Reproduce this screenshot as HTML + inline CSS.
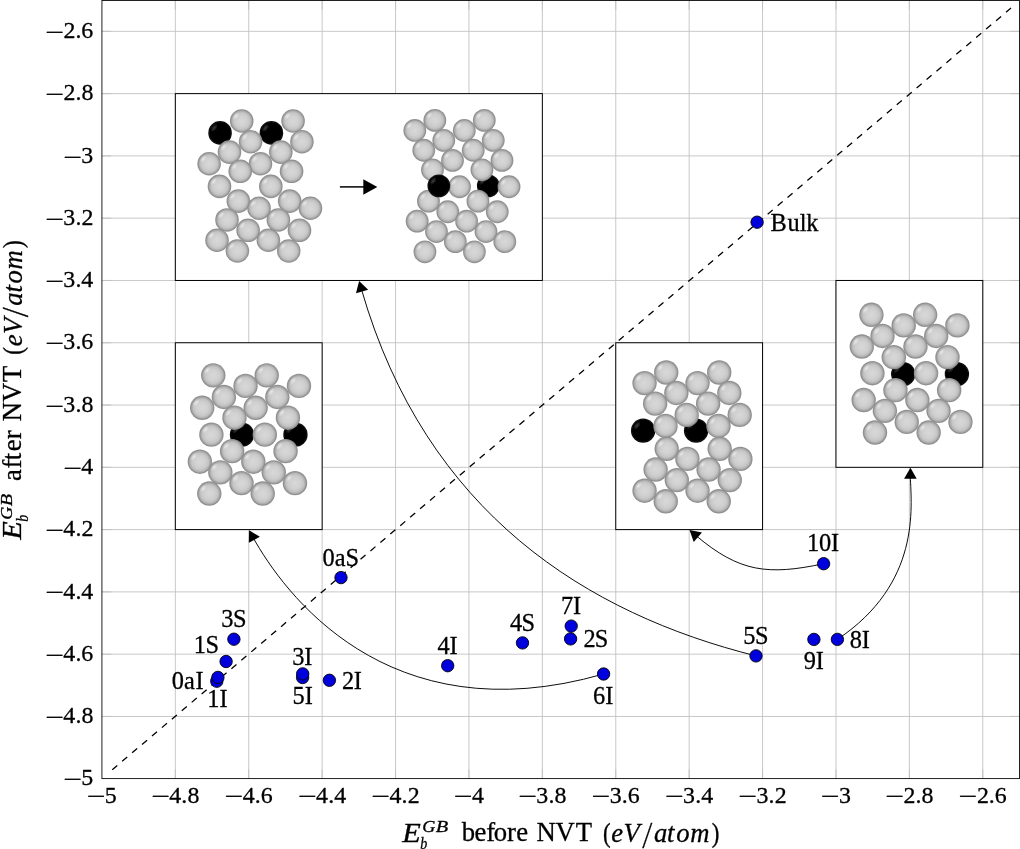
<!DOCTYPE html>
<html><head><meta charset="utf-8"><style>html,body{margin:0;padding:0;background:#fff;overflow:hidden;}svg{display:block;}text{fill:#000;stroke:#000;stroke-width:0.3px;stroke-linejoin:round;}</style></head>
<body>
<svg width="1020" height="849" viewBox="0 0 1020 849">
<defs>
<radialGradient id="gs" cx="50%" cy="50%" r="50%"><stop offset="0" stop-color="#d8d8d8"/><stop offset="0.45" stop-color="#d0d0d0"/><stop offset="0.7" stop-color="#c4c4c4"/><stop offset="0.84" stop-color="#acacac"/><stop offset="0.93" stop-color="#929292"/><stop offset="1" stop-color="#8e8e8e"/></radialGradient>
<filter id="bl" x="-5%" y="-5%" width="110%" height="110%"><feGaussianBlur stdDeviation="0.35"/></filter>
<radialGradient id="hw" cx="50%" cy="50%" r="50%"><stop offset="0" stop-color="#fff" stop-opacity="0.6"/><stop offset="1" stop-color="#fff" stop-opacity="0"/></radialGradient>
<radialGradient id="gb" cx="50%" cy="50%" r="50%"><stop offset="0" stop-color="#000"/><stop offset="0.85" stop-color="#030303"/><stop offset="1" stop-color="#141414"/></radialGradient>
<radialGradient id="hb" cx="50%" cy="50%" r="50%"><stop offset="0" stop-color="#5a5a5a" stop-opacity="0.7"/><stop offset="1" stop-color="#666" stop-opacity="0"/></radialGradient>
<g id="sw"><circle r="1" fill="url(#gs)"/><ellipse cx="-0.5" cy="-0.42" rx="0.4" ry="0.22" transform="rotate(-50 -0.5 -0.42)" fill="url(#hw)"/></g>
<g id="sb"><circle r="1" fill="url(#gb)"/><ellipse cx="-0.5" cy="-0.42" rx="0.4" ry="0.22" transform="rotate(-50 -0.5 -0.42)" fill="url(#hb)"/></g>
</defs>
<rect width="1020" height="849" fill="#fff"/>
<path d="M175.33 0.45V778.60M248.74 0.45V778.60M322.14 0.45V778.60M395.55 0.45V778.60M468.95 0.45V778.60M542.35 0.45V778.60M615.76 0.45V778.60M689.16 0.45V778.60M762.57 0.45V778.60M835.97 0.45V778.60M909.37 0.45V778.60M982.78 0.45V778.60M101.93 716.46H1019.55M101.93 654.17H1019.55M101.93 591.89H1019.55M101.93 529.60H1019.55M101.93 467.32H1019.55M101.93 405.04H1019.55M101.93 342.75H1019.55M101.93 280.47H1019.55M101.93 218.18H1019.55M101.93 155.90H1019.55M101.93 93.62H1019.55M101.93 31.33H1019.55" stroke="#bfbfbf" stroke-width="0.87" fill="none"/>
<path d="M175.33 778.60v-9.3M175.33 0.45v9.3M101.93 716.46h9.3M1019.55 716.46h-9.3M248.74 778.60v-9.3M248.74 0.45v9.3M101.93 654.17h9.3M1019.55 654.17h-9.3M322.14 778.60v-9.3M322.14 0.45v9.3M101.93 591.89h9.3M1019.55 591.89h-9.3M395.55 778.60v-9.3M395.55 0.45v9.3M101.93 529.60h9.3M1019.55 529.60h-9.3M468.95 778.60v-9.3M468.95 0.45v9.3M101.93 467.32h9.3M1019.55 467.32h-9.3M542.35 778.60v-9.3M542.35 0.45v9.3M101.93 405.04h9.3M1019.55 405.04h-9.3M615.76 778.60v-9.3M615.76 0.45v9.3M101.93 342.75h9.3M1019.55 342.75h-9.3M689.16 778.60v-9.3M689.16 0.45v9.3M101.93 280.47h9.3M1019.55 280.47h-9.3M762.57 778.60v-9.3M762.57 0.45v9.3M101.93 218.18h9.3M1019.55 218.18h-9.3M835.97 778.60v-9.3M835.97 0.45v9.3M101.93 155.90h9.3M1019.55 155.90h-9.3M909.37 778.60v-9.3M909.37 0.45v9.3M101.93 93.62h9.3M1019.55 93.62h-9.3M982.78 778.60v-9.3M982.78 0.45v9.3M101.93 31.33h9.3M1019.55 31.33h-9.3" stroke="#bfbfbf" stroke-width="0.87" fill="none"/>
<path d="M112.25 769.70L1011.70 7.45" stroke="#000" stroke-width="1.3" stroke-dasharray="6.6 6.417" fill="none"/>
<rect x="175.33" y="93.62" width="367.02" height="186.85" fill="#fff" stroke="#000" stroke-width="1.0"/>
<g filter="url(#bl)">
<use href="#sb" transform="translate(220.06 132.88) scale(11.80)"/>
<use href="#sb" transform="translate(271.40 132.88) scale(11.80)"/>
<use href="#sw" transform="translate(241.72 121.01) scale(11.80)"/>
<use href="#sw" transform="translate(293.07 121.01) scale(11.80)"/>
<use href="#sw" transform="translate(250.58 141.74) scale(11.80)"/>
<use href="#sw" transform="translate(301.92 141.74) scale(11.80)"/>
<use href="#sw" transform="translate(229.48 152.10) scale(11.80)"/>
<use href="#sw" transform="translate(280.82 152.10) scale(11.80)"/>
<use href="#sw" transform="translate(209.13 163.78) scale(11.80)"/>
<use href="#sw" transform="translate(260.47 163.78) scale(11.80)"/>
<use href="#sw" transform="translate(240.22 171.32) scale(11.80)"/>
<use href="#sw" transform="translate(291.56 171.32) scale(11.80)"/>
<use href="#sw" transform="translate(219.49 186.39) scale(11.80)"/>
<use href="#sw" transform="translate(270.83 186.39) scale(11.80)"/>
<use href="#sw" transform="translate(238.33 201.09) scale(11.80)"/>
<use href="#sw" transform="translate(289.67 201.09) scale(11.80)"/>
<use href="#sw" transform="translate(259.06 208.25) scale(11.80)"/>
<use href="#sw" transform="translate(310.40 208.25) scale(11.80)"/>
<use href="#sw" transform="translate(227.03 219.93) scale(11.80)"/>
<use href="#sw" transform="translate(278.37 219.93) scale(11.80)"/>
<use href="#sw" transform="translate(248.13 230.29) scale(11.80)"/>
<use href="#sw" transform="translate(299.47 230.29) scale(11.80)"/>
<use href="#sw" transform="translate(217.04 240.28) scale(11.80)"/>
<use href="#sw" transform="translate(268.38 240.28) scale(11.80)"/>
<use href="#sw" transform="translate(237.39 251.01) scale(11.80)"/>
<use href="#sw" transform="translate(288.73 251.01) scale(11.80)"/>
</g>
<path d="M339.9 186.9H366" stroke="#000" stroke-width="1.5" fill="none"/>
<path d="M377.3 187L363.3 179.2L363.3 194.8Z" fill="#000"/>
<g filter="url(#bl)">
<use href="#sb" transform="translate(488.30 185.82) scale(11.40)"/>
<use href="#sw" transform="translate(434.83 120.34) scale(11.40)"/>
<use href="#sw" transform="translate(484.30 120.34) scale(11.40)"/>
<use href="#sw" transform="translate(414.81 130.47) scale(11.40)"/>
<use href="#sw" transform="translate(464.28 130.47) scale(11.40)"/>
<use href="#sw" transform="translate(443.78 140.36) scale(11.40)"/>
<use href="#sw" transform="translate(493.25 140.36) scale(11.40)"/>
<use href="#sw" transform="translate(423.76 150.25) scale(11.40)"/>
<use href="#sw" transform="translate(473.23 150.25) scale(11.40)"/>
<use href="#sw" transform="translate(452.50 160.38) scale(11.40)"/>
<use href="#sw" transform="translate(501.97 160.38) scale(11.40)"/>
<use href="#sw" transform="translate(432.47 169.81) scale(11.40)"/>
<use href="#sw" transform="translate(481.94 169.81) scale(11.40)"/>
<use href="#sw" transform="translate(459.56 186.77) scale(11.40)"/>
<use href="#sw" transform="translate(509.03 186.77) scale(11.40)"/>
<use href="#sw" transform="translate(428.47 201.14) scale(11.40)"/>
<use href="#sw" transform="translate(477.94 201.14) scale(11.40)"/>
<use href="#sw" transform="translate(447.79 211.74) scale(11.40)"/>
<use href="#sw" transform="translate(497.26 211.74) scale(11.40)"/>
<use href="#sw" transform="translate(417.16 221.16) scale(11.40)"/>
<use href="#sw" transform="translate(466.63 221.16) scale(11.40)"/>
<use href="#sw" transform="translate(436.48 231.53) scale(11.40)"/>
<use href="#sw" transform="translate(485.95 231.53) scale(11.40)"/>
<use href="#sw" transform="translate(455.32 241.65) scale(11.40)"/>
<use href="#sw" transform="translate(504.79 241.65) scale(11.40)"/>
<use href="#sw" transform="translate(424.94 251.78) scale(11.40)"/>
<use href="#sw" transform="translate(474.41 251.78) scale(11.40)"/>
<use href="#sb" transform="translate(438.83 185.82) scale(11.40)"/>
</g>
<rect x="175.33" y="342.75" width="146.81" height="186.85" fill="#fff" stroke="#000" stroke-width="1.0"/>
<g filter="url(#bl)">
<use href="#sb" transform="translate(242.00 434.66) scale(12.20)"/>
<use href="#sb" transform="translate(295.45 434.66) scale(12.20)"/>
<use href="#sw" transform="translate(213.27 375.33) scale(12.20)"/>
<use href="#sw" transform="translate(266.72 375.33) scale(12.20)"/>
<use href="#sw" transform="translate(245.53 385.92) scale(12.20)"/>
<use href="#sw" transform="translate(298.98 385.92) scale(12.20)"/>
<use href="#sw" transform="translate(223.87 396.99) scale(12.20)"/>
<use href="#sw" transform="translate(277.31 396.99) scale(12.20)"/>
<use href="#sw" transform="translate(202.20 407.82) scale(12.20)"/>
<use href="#sw" transform="translate(255.65 407.82) scale(12.20)"/>
<use href="#sw" transform="translate(234.46 417.71) scale(12.20)"/>
<use href="#sw" transform="translate(287.91 417.71) scale(12.20)"/>
<use href="#sw" transform="translate(211.39 434.66) scale(12.20)"/>
<use href="#sw" transform="translate(264.84 434.66) scale(12.20)"/>
<use href="#sw" transform="translate(232.11 451.15) scale(12.20)"/>
<use href="#sw" transform="translate(285.56 451.15) scale(12.20)"/>
<use href="#sw" transform="translate(199.85 461.74) scale(12.20)"/>
<use href="#sw" transform="translate(253.30 461.74) scale(12.20)"/>
<use href="#sw" transform="translate(220.33 472.34) scale(12.20)"/>
<use href="#sw" transform="translate(273.78 472.34) scale(12.20)"/>
<use href="#sw" transform="translate(241.52 483.17) scale(12.20)"/>
<use href="#sw" transform="translate(294.97 483.17) scale(12.20)"/>
<use href="#sw" transform="translate(209.27 493.53) scale(12.20)"/>
<use href="#sw" transform="translate(262.72 493.53) scale(12.20)"/>
</g>
<rect x="615.76" y="342.75" width="146.81" height="186.85" fill="#fff" stroke="#000" stroke-width="1.0"/>
<g filter="url(#bl)">
<use href="#sb" transform="translate(643.14 430.66) scale(12.20)"/>
<use href="#sb" transform="translate(696.12 430.66) scale(12.20)"/>
<use href="#sw" transform="translate(666.22 372.50) scale(12.20)"/>
<use href="#sw" transform="translate(719.20 372.50) scale(12.20)"/>
<use href="#sw" transform="translate(644.56 383.10) scale(12.20)"/>
<use href="#sw" transform="translate(697.54 383.10) scale(12.20)"/>
<use href="#sw" transform="translate(676.34 392.99) scale(12.20)"/>
<use href="#sw" transform="translate(729.32 392.99) scale(12.20)"/>
<use href="#sw" transform="translate(655.15 403.58) scale(12.20)"/>
<use href="#sw" transform="translate(708.13 403.58) scale(12.20)"/>
<use href="#sw" transform="translate(686.70 414.89) scale(12.20)"/>
<use href="#sw" transform="translate(739.68 414.89) scale(12.20)"/>
<use href="#sw" transform="translate(665.51 425.95) scale(12.20)"/>
<use href="#sw" transform="translate(718.49 425.95) scale(12.20)"/>
<use href="#sw" transform="translate(666.69 448.79) scale(12.20)"/>
<use href="#sw" transform="translate(719.67 448.79) scale(12.20)"/>
<use href="#sw" transform="translate(687.41 458.92) scale(12.20)"/>
<use href="#sw" transform="translate(740.39 458.92) scale(12.20)"/>
<use href="#sw" transform="translate(655.62 469.51) scale(12.20)"/>
<use href="#sw" transform="translate(708.60 469.51) scale(12.20)"/>
<use href="#sw" transform="translate(676.82 480.11) scale(12.20)"/>
<use href="#sw" transform="translate(729.79 480.11) scale(12.20)"/>
<use href="#sw" transform="translate(644.56 490.70) scale(12.20)"/>
<use href="#sw" transform="translate(697.54 490.70) scale(12.20)"/>
<use href="#sw" transform="translate(665.75 501.30) scale(12.20)"/>
<use href="#sw" transform="translate(718.73 501.30) scale(12.20)"/>
</g>
<rect x="835.97" y="280.47" width="146.81" height="186.85" fill="#fff" stroke="#000" stroke-width="1.0"/>
<g filter="url(#bl)">
<use href="#sb" transform="translate(903.23 374.12) scale(12.20)"/>
<use href="#sb" transform="translate(956.92 374.12) scale(12.20)"/>
<use href="#sw" transform="translate(871.44 314.78) scale(12.20)"/>
<use href="#sw" transform="translate(925.13 314.78) scale(12.20)"/>
<use href="#sw" transform="translate(903.70 325.38) scale(12.20)"/>
<use href="#sw" transform="translate(957.39 325.38) scale(12.20)"/>
<use href="#sw" transform="translate(882.51 335.97) scale(12.20)"/>
<use href="#sw" transform="translate(936.20 335.97) scale(12.20)"/>
<use href="#sw" transform="translate(861.79 346.57) scale(12.20)"/>
<use href="#sw" transform="translate(915.47 346.57) scale(12.20)"/>
<use href="#sw" transform="translate(893.81 357.17) scale(12.20)"/>
<use href="#sw" transform="translate(947.50 357.17) scale(12.20)"/>
<use href="#sw" transform="translate(872.39 373.18) scale(12.20)"/>
<use href="#sw" transform="translate(926.07 373.18) scale(12.20)"/>
<use href="#sw" transform="translate(895.46 390.13) scale(12.20)"/>
<use href="#sw" transform="translate(949.15 390.13) scale(12.20)"/>
<use href="#sw" transform="translate(863.67 400.02) scale(12.20)"/>
<use href="#sw" transform="translate(917.36 400.02) scale(12.20)"/>
<use href="#sw" transform="translate(884.87 410.85) scale(12.20)"/>
<use href="#sw" transform="translate(938.55 410.85) scale(12.20)"/>
<use href="#sw" transform="translate(906.76 421.92) scale(12.20)"/>
<use href="#sw" transform="translate(960.45 421.92) scale(12.20)"/>
<use href="#sw" transform="translate(874.98 432.51) scale(12.20)"/>
<use href="#sw" transform="translate(928.66 432.51) scale(12.20)"/>
</g>
<path d="M756.00 655.90C587.43 613.78 426.13 513.59 361.48 289.37" stroke="#000" stroke-width="0.95" fill="none"/>
<path d="M359.10 280.90L368.16 289.77L356.03 293.20Z" fill="#000"/>
<path d="M603.60 674.00C385.44 736.73 282.54 590.02 253.29 537.94" stroke="#000" stroke-width="0.95" fill="none"/>
<path d="M249.10 530.20L259.90 536.83L248.85 542.87Z" fill="#000"/>
<path d="M823.60 563.70C768.01 575.52 739.59 572.29 696.16 535.75" stroke="#000" stroke-width="0.95" fill="none"/>
<path d="M689.50 530.00L701.95 532.38L693.74 541.95Z" fill="#000"/>
<path d="M837.40 639.40C921.07 583.41 911.34 506.97 910.32 476.60" stroke="#000" stroke-width="0.95" fill="none"/>
<path d="M910.50 467.80L916.70 478.86L904.10 478.74Z" fill="#000"/>
<circle cx="341.00" cy="577.60" r="6.2" fill="#0000dc" stroke="#000" stroke-width="0.87"/>
<circle cx="233.90" cy="639.20" r="6.2" fill="#0000dc" stroke="#000" stroke-width="0.87"/>
<circle cx="226.10" cy="661.50" r="6.2" fill="#0000dc" stroke="#000" stroke-width="0.87"/>
<circle cx="216.80" cy="681.20" r="6.2" fill="#0000dc" stroke="#000" stroke-width="0.87"/>
<circle cx="217.90" cy="677.40" r="6.2" fill="#0000dc" stroke="#000" stroke-width="0.87"/>
<circle cx="302.60" cy="677.50" r="6.2" fill="#0000dc" stroke="#000" stroke-width="0.87"/>
<circle cx="302.70" cy="673.90" r="6.2" fill="#0000dc" stroke="#000" stroke-width="0.87"/>
<circle cx="329.40" cy="680.30" r="6.2" fill="#0000dc" stroke="#000" stroke-width="0.87"/>
<circle cx="447.70" cy="665.70" r="6.2" fill="#0000dc" stroke="#000" stroke-width="0.87"/>
<circle cx="522.50" cy="642.90" r="6.2" fill="#0000dc" stroke="#000" stroke-width="0.87"/>
<circle cx="571.20" cy="626.10" r="6.2" fill="#0000dc" stroke="#000" stroke-width="0.87"/>
<circle cx="570.60" cy="638.90" r="6.2" fill="#0000dc" stroke="#000" stroke-width="0.87"/>
<circle cx="603.60" cy="674.00" r="6.2" fill="#0000dc" stroke="#000" stroke-width="0.87"/>
<circle cx="756.00" cy="655.90" r="6.2" fill="#0000dc" stroke="#000" stroke-width="0.87"/>
<circle cx="813.90" cy="639.40" r="6.2" fill="#0000dc" stroke="#000" stroke-width="0.87"/>
<circle cx="837.40" cy="639.40" r="6.2" fill="#0000dc" stroke="#000" stroke-width="0.87"/>
<circle cx="823.60" cy="563.70" r="6.2" fill="#0000dc" stroke="#000" stroke-width="0.87"/>
<circle cx="757.10" cy="222.20" r="6.2" fill="#0000dc" stroke="#000" stroke-width="0.87"/>
<text x="322.51 334.72 345.61" y="565.57" style="font-family:'Liberation Serif', serif;font-size:24.36px">0aS</text>
<text x="221.32 232.93" y="626.82" style="font-family:'Liberation Serif', serif;font-size:24.36px">3S</text>
<text x="193.84 205.58" y="653.47" style="font-family:'Liberation Serif', serif;font-size:24.36px">1S</text>
<text x="171.83 184.04 195.45" y="689.47" style="font-family:'Liberation Serif', serif;font-size:24.36px">0aI</text>
<text x="207.27 219.52" y="707.27" style="font-family:'Liberation Serif', serif;font-size:24.36px">1I</text>
<text x="292.14 304.27" y="665.27" style="font-family:'Liberation Serif', serif;font-size:24.36px">3I</text>
<text x="292.47 304.73" y="703.67" style="font-family:'Liberation Serif', serif;font-size:24.36px">5I</text>
<text x="341.89 353.78" y="688.97" style="font-family:'Liberation Serif', serif;font-size:24.36px">2I</text>
<text x="437.51 449.58" y="653.72" style="font-family:'Liberation Serif', serif;font-size:24.36px">4I</text>
<text x="509.99 521.54" y="631.02" style="font-family:'Liberation Serif', serif;font-size:24.36px">4S</text>
<text x="561.02 573.01" y="613.87" style="font-family:'Liberation Serif', serif;font-size:24.36px">7I</text>
<text x="583.47 594.84" y="647.27" style="font-family:'Liberation Serif', serif;font-size:24.36px">2S</text>
<text x="593.09 605.27" y="703.57" style="font-family:'Liberation Serif', serif;font-size:24.36px">6I</text>
<text x="743.15 754.89" y="643.87" style="font-family:'Liberation Serif', serif;font-size:24.36px">5S</text>
<text x="803.86 815.77" y="668.97" style="font-family:'Liberation Serif', serif;font-size:24.36px">9I</text>
<text x="849.75 861.77" y="647.67" style="font-family:'Liberation Serif', serif;font-size:24.36px">8I</text>
<text x="807.07 818.90 830.92" y="551.27" style="font-family:'Liberation Serif', serif;font-size:24.36px">10I</text>
<text x="770.56 787.43 799.75 806.17" y="231.12" style="font-family:'Liberation Serif', serif;font-size:24.36px">Bulk</text>
<text transform="matrix(1.4291 0 0 1.0000 86.75 804.40)" style="font-family:'Liberation Serif', serif;font-size:23.20px">−</text>
<text x="104.74" y="802.50" style="font-family:'Liberation Serif', serif;font-size:23.90px">5</text>
<text transform="matrix(1.4291 0 0 1.0000 151.13 804.40)" style="font-family:'Liberation Serif', serif;font-size:23.20px">−</text>
<text x="169.30 181.37 187.40" y="802.50" style="font-family:'Liberation Serif', serif;font-size:23.90px">4.8</text>
<text transform="matrix(1.4291 0 0 1.0000 224.54 804.40)" style="font-family:'Liberation Serif', serif;font-size:23.20px">−</text>
<text x="242.71 254.78 260.64" y="802.50" style="font-family:'Liberation Serif', serif;font-size:23.90px">4.6</text>
<text transform="matrix(1.4291 0 0 1.0000 297.94 804.40)" style="font-family:'Liberation Serif', serif;font-size:23.20px">−</text>
<text x="316.11 328.18 334.16" y="802.50" style="font-family:'Liberation Serif', serif;font-size:23.90px">4.4</text>
<text transform="matrix(1.4291 0 0 1.0000 371.34 804.40)" style="font-family:'Liberation Serif', serif;font-size:23.20px">−</text>
<text x="389.51 401.58 407.74" y="802.50" style="font-family:'Liberation Serif', serif;font-size:23.90px">4.2</text>
<text transform="matrix(1.4291 0 0 1.0000 453.77 804.40)" style="font-family:'Liberation Serif', serif;font-size:23.20px">−</text>
<text x="471.94" y="802.50" style="font-family:'Liberation Serif', serif;font-size:23.90px">4</text>
<text transform="matrix(1.4291 0 0 1.0000 518.15 804.40)" style="font-family:'Liberation Serif', serif;font-size:23.20px">−</text>
<text x="536.26 548.39 554.42" y="802.50" style="font-family:'Liberation Serif', serif;font-size:23.90px">3.8</text>
<text transform="matrix(1.4291 0 0 1.0000 591.56 804.40)" style="font-family:'Liberation Serif', serif;font-size:23.20px">−</text>
<text x="609.67 621.80 627.66" y="802.50" style="font-family:'Liberation Serif', serif;font-size:23.90px">3.6</text>
<text transform="matrix(1.4291 0 0 1.0000 664.96 804.40)" style="font-family:'Liberation Serif', serif;font-size:23.20px">−</text>
<text x="683.07 695.20 701.18" y="802.50" style="font-family:'Liberation Serif', serif;font-size:23.90px">3.4</text>
<text transform="matrix(1.4291 0 0 1.0000 738.36 804.40)" style="font-family:'Liberation Serif', serif;font-size:23.20px">−</text>
<text x="756.48 768.60 774.76" y="802.50" style="font-family:'Liberation Serif', serif;font-size:23.90px">3.2</text>
<text transform="matrix(1.4291 0 0 1.0000 820.79 804.40)" style="font-family:'Liberation Serif', serif;font-size:23.20px">−</text>
<text x="838.90" y="802.50" style="font-family:'Liberation Serif', serif;font-size:23.90px">3</text>
<text transform="matrix(1.4291 0 0 1.0000 885.17 804.40)" style="font-family:'Liberation Serif', serif;font-size:23.20px">−</text>
<text x="903.52 915.41 921.44" y="802.50" style="font-family:'Liberation Serif', serif;font-size:23.90px">2.8</text>
<text transform="matrix(1.4291 0 0 1.0000 958.58 804.40)" style="font-family:'Liberation Serif', serif;font-size:23.20px">−</text>
<text x="976.93 988.82 994.68" y="802.50" style="font-family:'Liberation Serif', serif;font-size:23.90px">2.6</text>
<text transform="matrix(1.4291 0 0 1.0000 63.20 787.34)" style="font-family:'Liberation Serif', serif;font-size:23.20px">−</text>
<text x="81.19" y="785.44" style="font-family:'Liberation Serif', serif;font-size:23.90px">5</text>
<text transform="matrix(1.4291 0 0 1.0000 45.15 725.06)" style="font-family:'Liberation Serif', serif;font-size:23.20px">−</text>
<text x="63.32 75.39 81.41" y="723.16" style="font-family:'Liberation Serif', serif;font-size:23.90px">4.8</text>
<text transform="matrix(1.4291 0 0 1.0000 45.15 662.78)" style="font-family:'Liberation Serif', serif;font-size:23.20px">−</text>
<text x="63.32 75.39 81.26" y="660.87" style="font-family:'Liberation Serif', serif;font-size:23.90px">4.6</text>
<text transform="matrix(1.4291 0 0 1.0000 45.15 600.49)" style="font-family:'Liberation Serif', serif;font-size:23.20px">−</text>
<text x="63.32 75.39 81.37" y="598.59" style="font-family:'Liberation Serif', serif;font-size:23.90px">4.4</text>
<text transform="matrix(1.4291 0 0 1.0000 45.15 538.21)" style="font-family:'Liberation Serif', serif;font-size:23.20px">−</text>
<text x="63.32 75.39 81.55" y="536.30" style="font-family:'Liberation Serif', serif;font-size:23.90px">4.2</text>
<text transform="matrix(1.4291 0 0 1.0000 63.20 475.92)" style="font-family:'Liberation Serif', serif;font-size:23.20px">−</text>
<text x="81.37" y="474.02" style="font-family:'Liberation Serif', serif;font-size:23.90px">4</text>
<text transform="matrix(1.4291 0 0 1.0000 45.15 413.64)" style="font-family:'Liberation Serif', serif;font-size:23.20px">−</text>
<text x="63.26 75.39 81.41" y="411.74" style="font-family:'Liberation Serif', serif;font-size:23.90px">3.8</text>
<text transform="matrix(1.4291 0 0 1.0000 45.15 351.36)" style="font-family:'Liberation Serif', serif;font-size:23.20px">−</text>
<text x="63.26 75.39 81.26" y="349.45" style="font-family:'Liberation Serif', serif;font-size:23.90px">3.6</text>
<text transform="matrix(1.4291 0 0 1.0000 45.15 289.07)" style="font-family:'Liberation Serif', serif;font-size:23.20px">−</text>
<text x="63.26 75.39 81.37" y="287.17" style="font-family:'Liberation Serif', serif;font-size:23.90px">3.4</text>
<text transform="matrix(1.4291 0 0 1.0000 45.15 226.79)" style="font-family:'Liberation Serif', serif;font-size:23.20px">−</text>
<text x="63.26 75.39 81.55" y="224.88" style="font-family:'Liberation Serif', serif;font-size:23.90px">3.2</text>
<text transform="matrix(1.4291 0 0 1.0000 63.20 164.50)" style="font-family:'Liberation Serif', serif;font-size:23.20px">−</text>
<text x="81.31" y="162.60" style="font-family:'Liberation Serif', serif;font-size:23.90px">3</text>
<text transform="matrix(1.4291 0 0 1.0000 45.15 102.22)" style="font-family:'Liberation Serif', serif;font-size:23.20px">−</text>
<text x="63.50 75.39 81.41" y="100.32" style="font-family:'Liberation Serif', serif;font-size:23.90px">2.8</text>
<text transform="matrix(1.4291 0 0 1.0000 45.15 39.94)" style="font-family:'Liberation Serif', serif;font-size:23.20px">−</text>
<text x="63.50 75.39 81.26" y="38.03" style="font-family:'Liberation Serif', serif;font-size:23.90px">2.6</text>
<text transform="matrix(1.1968 0 0 1.0385 402.16 841.74)" style="font-family:'Liberation Serif', serif;font-size:25.40px;font-style:italic">E</text>
<text transform="matrix(0.8506 0 0 1.0020 420.19 848.60)" style="font-family:'Liberation Serif', serif;font-size:16.50px;font-style:italic">b</text>
<text transform="matrix(1.0999 0 0 1.0300 422.19 832.00)" style="font-family:'Liberation Serif', serif;font-size:16.50px;font-style:italic">G</text>
<text transform="matrix(1.2319 0 0 1.0300 435.84 831.99)" style="font-family:'Liberation Serif', serif;font-size:16.50px;font-style:italic">B</text>
<text x="461.65 474.61 486.34 493.68 507.10 516.31 536.46 555.59 575.75" y="841.47" style="font-family:'Liberation Serif', serif;font-size:26.67px">beforeNVT</text>
<text transform="matrix(0.9033 0 0 1.1029 602.89 842.39)" style="font-family:'Liberation Serif', serif;font-size:25.40px">(</text>
<text x="611.35 623.52" y="842.00" style="font-family:'Liberation Serif', serif;font-size:26.67px;font-style:italic">eV</text>
<text transform="matrix(0.9727 0 0 1.4949 643.59 847.98)" style="font-family:'Liberation Serif', serif;font-size:25.40px;font-style:italic">/</text>
<text x="654.00 667.10 676.15 690.24" y="842.00" style="font-family:'Liberation Serif', serif;font-size:26.67px;font-style:italic">atom</text>
<text transform="matrix(0.9033 0 0 1.1029 711.67 842.39)" style="font-family:'Liberation Serif', serif;font-size:25.40px">)</text>
<g transform="translate(21.7,540.2) rotate(-90)">
<text transform="matrix(1.1968 0 0 1.0385 0.36 -0.26)" style="font-family:'Liberation Serif', serif;font-size:25.40px;font-style:italic">E</text>
<text transform="matrix(0.8506 0 0 1.0020 18.39 6.60)" style="font-family:'Liberation Serif', serif;font-size:16.50px;font-style:italic">b</text>
<text transform="matrix(1.0999 0 0 1.0300 20.39 -10.00)" style="font-family:'Liberation Serif', serif;font-size:16.50px;font-style:italic">G</text>
<text transform="matrix(1.2319 0 0 1.0300 34.04 -10.01)" style="font-family:'Liberation Serif', serif;font-size:16.50px;font-style:italic">B</text>
<text x="59.23 71.70 80.07 88.90 100.91 119.00 138.13 158.29" y="-0.53" style="font-family:'Liberation Serif', serif;font-size:26.67px">afterNVT</text>
<text transform="matrix(0.9033 0 0 1.1029 185.49 0.39)" style="font-family:'Liberation Serif', serif;font-size:25.40px">(</text>
<text x="193.95 206.12" y="0.00" style="font-family:'Liberation Serif', serif;font-size:26.67px;font-style:italic">eV</text>
<text transform="matrix(0.9727 0 0 1.4949 224.09 5.98)" style="font-family:'Liberation Serif', serif;font-size:25.40px;font-style:italic">/</text>
<text x="234.50 247.60 256.65 270.74" y="0.00" style="font-family:'Liberation Serif', serif;font-size:26.67px;font-style:italic">atom</text>
<text transform="matrix(0.9033 0 0 1.1029 292.17 0.39)" style="font-family:'Liberation Serif', serif;font-size:25.40px">)</text>
</g>
<rect x="101.93" y="0.45" width="917.62" height="778.15" fill="none" stroke="#000" stroke-width="0.87"/>
</svg>
</body></html>
